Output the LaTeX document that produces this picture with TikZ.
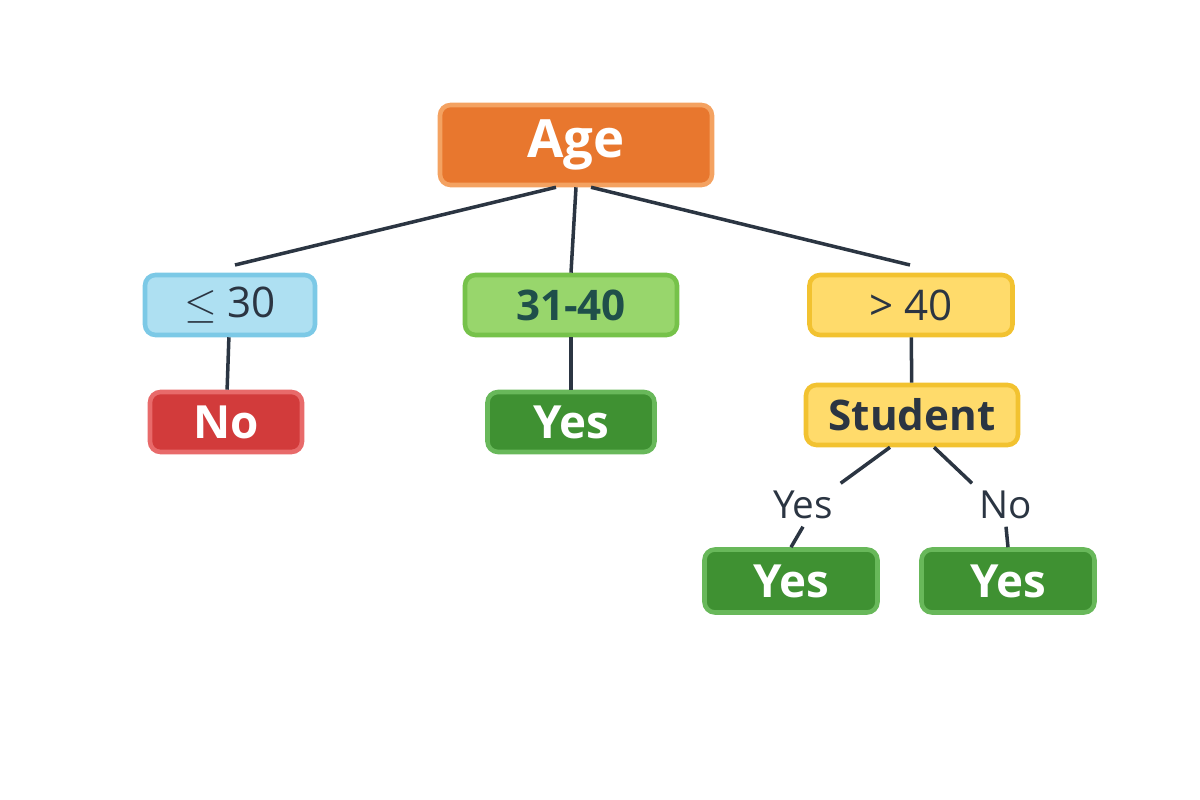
\documentclass[tikz,border=0pt]{standalone}
\usepackage{fontspec}
\setmainfont{Open Sans}
\definecolor{ageF}{HTML}{E8772E}\definecolor{ageD}{HTML}{F4A261}
\definecolor{blueF}{HTML}{AEE0F2}\definecolor{blueD}{HTML}{7CC9E6}
\definecolor{lgrF}{HTML}{98D66C}\definecolor{lgrD}{HTML}{76C24A}
\definecolor{yelF}{HTML}{FFDB6B}\definecolor{yelD}{HTML}{F2C230}
\definecolor{redF}{HTML}{D23B3B}\definecolor{redD}{HTML}{E86A6A}
\definecolor{dgrF}{HTML}{3F9132}\definecolor{dgrD}{HTML}{68B85A}
\definecolor{ink}{HTML}{2B3542}\definecolor{teal}{HTML}{1F4F4A}
\begin{document}
\begin{tikzpicture}[inner sep=2pt,
            every node/.style={font=\bfseries},
            box/.style={draw,rounded corners=3pt,line width=1.3pt,minimum height=0.6cm},
            edge/.style={draw=ink,line width=1pt}]
                \useasboundingbox (0,0) rectangle (12,8);
                \node[box,fill=ageF,draw=ageD,text=white,minimum width=2.72cm,minimum height=0.8cm,font=\bfseries\fontsize{15}{17}\selectfont](nAge) at (5.76, 6.55) {Age};
                \node[box,fill=blueF,draw=blueD,text=ink,minimum width=1.7cm,font=\fontsize{12}{14}\selectfont](nLow) at (2.30, 4.95) {$\le$ 30};
                \node[box,fill=lgrF,draw=lgrD,text=teal,minimum width=2.12cm,font=\bfseries\fontsize{12}{14}\selectfont](nMid) at (5.71, 4.95) {31-40};
                \node[box,fill=yelF,draw=yelD,text=ink,minimum width=2.03cm,font=\fontsize{12}{14}\selectfont](nHigh) at (9.11, 4.95) {> 40};
                \node[box,fill=redF,draw=redD,text=white,minimum width=1.52cm,font=\bfseries\fontsize{13}{15}\selectfont](nNo) at (2.26, 3.78) {No};
                \node[box,fill=dgrF,draw=dgrD,text=white,minimum width=1.67cm,font=\bfseries\fontsize{13}{15}\selectfont](nYes) at (5.71, 3.78) {Yes};
                \node[box,fill=yelF,draw=yelD,text=ink,minimum width=2.12cm,font=\bfseries\fontsize{12}{14}\selectfont](nStudent) at (9.12, 3.85) {Student};
                \node[text=ink,font=\fontsize{11}{13}\selectfont](lYes) at (8.03, 2.95) {Yes};
                \node[text=ink,font=\fontsize{11}{13}\selectfont](lNo) at (10.06, 2.95) {No};
                \node[box,fill=dgrF,draw=dgrD,text=white,minimum width=1.73cm,minimum height=0.63cm,font=\bfseries\fontsize{13}{15}\selectfont](nYesA) at (7.91, 2.19) {Yes};
                \node[box,fill=dgrF,draw=dgrD,text=white,minimum width=1.73cm,minimum height=0.63cm,font=\bfseries\fontsize{13}{15}\selectfont](nYesB) at (10.08, 2.19) {Yes};

                \coordinate (cL) at (2.35, 5.35);
                \coordinate (cR) at (9.10, 5.35);
            \begin{scope}[edge]
                \draw ([xshift=-0.2cm]nAge.south) -- (cL);
                \draw (nAge.south) -- (nMid.north);
                \draw ([xshift=0.15cm]nAge.south) -- (cR);
                \draw (nLow) -- (nNo);
                \draw (nMid) -- (nYes);
                \draw (nHigh) -- (nStudent);
                \draw ([xshift=-0.22cm]nStudent.south) -- (lYes.north east);
                \draw ([xshift=0.22cm]nStudent.south) -- (lNo.north west);
                \draw (lYes.south) -- (nYesA.north);
                \draw (lNo.south) -- (nYesB.north);
            \end{scope}
        \end{tikzpicture}
\end{document}
